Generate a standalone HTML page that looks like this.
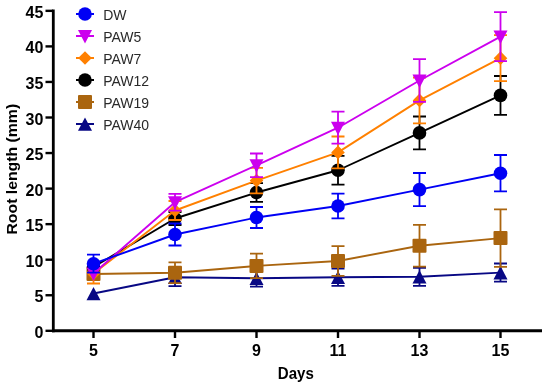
<!DOCTYPE html>
<html><head><meta charset="utf-8"><style>
html,body{margin:0;padding:0;background:#fff;width:550px;height:388px;overflow:hidden}
svg{display:block}
.tk{font-family:"Liberation Sans",sans-serif;font-weight:bold;font-size:16px;fill:#000}
.ax{font-family:"Liberation Sans",sans-serif;font-weight:bold;font-size:15.8px;fill:#000}
.ax2{font-family:"Liberation Sans",sans-serif;font-weight:bold;font-size:15.8px;fill:#000}
.lg{font-family:"Liberation Sans",sans-serif;font-size:14px;fill:#2a2a2a}
</style></head><body>
<svg style="will-change:transform" width="550" height="388" viewBox="0 0 550 388">
<path d="M53.3 9.4V332.3" stroke="#000" stroke-width="2.8"/>
<path d="M52 330.8H542" stroke="#000" stroke-width="3"/>
<path d="M45.5 330.80H53" stroke="#000" stroke-width="2.4"/>
<text x="43.3" y="337.80" class="tk" text-anchor="end">0</text>
<path d="M45.5 295.25H53" stroke="#000" stroke-width="2.4"/>
<text x="43.3" y="302.25" class="tk" text-anchor="end">5</text>
<path d="M45.5 259.70H53" stroke="#000" stroke-width="2.4"/>
<text x="43.3" y="266.70" class="tk" text-anchor="end">10</text>
<path d="M45.5 224.15H53" stroke="#000" stroke-width="2.4"/>
<text x="43.3" y="231.15" class="tk" text-anchor="end">15</text>
<path d="M45.5 188.60H53" stroke="#000" stroke-width="2.4"/>
<text x="43.3" y="195.60" class="tk" text-anchor="end">20</text>
<path d="M45.5 153.05H53" stroke="#000" stroke-width="2.4"/>
<text x="43.3" y="160.05" class="tk" text-anchor="end">25</text>
<path d="M45.5 117.50H53" stroke="#000" stroke-width="2.4"/>
<text x="43.3" y="124.50" class="tk" text-anchor="end">30</text>
<path d="M45.5 81.95H53" stroke="#000" stroke-width="2.4"/>
<text x="43.3" y="88.95" class="tk" text-anchor="end">35</text>
<path d="M45.5 46.40H53" stroke="#000" stroke-width="2.4"/>
<text x="43.3" y="53.40" class="tk" text-anchor="end">40</text>
<path d="M45.5 10.85H53" stroke="#000" stroke-width="2.4"/>
<text x="43.3" y="17.85" class="tk" text-anchor="end">45</text>
<path d="M93.5 331V338" stroke="#000" stroke-width="2.4"/>
<text x="93.5" y="356" class="tk" text-anchor="middle">5</text>
<path d="M175 331V338" stroke="#000" stroke-width="2.4"/>
<text x="175" y="356" class="tk" text-anchor="middle">7</text>
<path d="M256.5 331V338" stroke="#000" stroke-width="2.4"/>
<text x="256.5" y="356" class="tk" text-anchor="middle">9</text>
<path d="M338 331V338" stroke="#000" stroke-width="2.4"/>
<text x="338" y="356" class="tk" text-anchor="middle">11</text>
<path d="M419.5 331V338" stroke="#000" stroke-width="2.4"/>
<text x="419.5" y="356" class="tk" text-anchor="middle">13</text>
<path d="M500.5 331V338" stroke="#000" stroke-width="2.4"/>
<text x="500.5" y="356" class="tk" text-anchor="middle">15</text>
<text transform="translate(295.8 378.6) scale(0.955 1)" class="ax" text-anchor="middle">Days</text>
<text transform="translate(16.6 169.2) rotate(-90) scale(1 0.92)" class="ax2" text-anchor="middle">Root length (mm)</text>
<path d="M93.5 293.5 L175 277.2 L256.5 278.2 L338 277.3 L419.5 276.8 L500.5 272.6" fill="none" stroke="#080884" stroke-width="1.9" stroke-linejoin="round"/>
<path d="M175 268.2V286.2M168.5 268.2H181.5M168.5 286.2H181.5" fill="none" stroke="#080884" stroke-width="1.8"/>
<path d="M256.5 269.7V286.7M250.0 269.7H263.0M250.0 286.7H263.0" fill="none" stroke="#080884" stroke-width="1.8"/>
<path d="M338 268.7V285.90000000000003M331.5 268.7H344.5M331.5 285.90000000000003H344.5" fill="none" stroke="#080884" stroke-width="1.8"/>
<path d="M419.5 267.8V285.8M413.0 267.8H426.0M413.0 285.8H426.0" fill="none" stroke="#080884" stroke-width="1.8"/>
<path d="M500.5 263.5V281.70000000000005M494.0 263.5H507.0M494.0 281.70000000000005H507.0" fill="none" stroke="#080884" stroke-width="1.8"/>
<path d="M86.5 300.3L100.5 300.3L93.5 287.0Z" fill="#080884"/>
<path d="M168 284.0L182 284.0L175 270.7Z" fill="#080884"/>
<path d="M249.5 285.0L263.5 285.0L256.5 271.7Z" fill="#080884"/>
<path d="M331 284.1L345 284.1L338 270.8Z" fill="#080884"/>
<path d="M412.5 283.6L426.5 283.6L419.5 270.3Z" fill="#080884"/>
<path d="M493.5 279.40000000000003L507.5 279.40000000000003L500.5 266.1Z" fill="#080884"/>
<path d="M93.5 274 L175 272.8 L256.5 265.9 L338 261 L419.5 245.75 L500.5 238.1" fill="none" stroke="#AA650F" stroke-width="1.9" stroke-linejoin="round"/>
<path d="M175 262.40000000000003V283.2M168.5 262.40000000000003H181.5M168.5 283.2H181.5" fill="none" stroke="#AA650F" stroke-width="1.8"/>
<path d="M256.5 253.59999999999997V278.2M250.0 253.59999999999997H263.0M250.0 278.2H263.0" fill="none" stroke="#AA650F" stroke-width="1.8"/>
<path d="M338 246.2V275.8M331.5 246.2H344.5M331.5 275.8H344.5" fill="none" stroke="#AA650F" stroke-width="1.8"/>
<path d="M419.5 224.95V266.55M413.0 224.95H426.0M413.0 266.55H426.0" fill="none" stroke="#AA650F" stroke-width="1.8"/>
<path d="M500.5 209.4V266.8M494.0 209.4H507.0M494.0 266.8H507.0" fill="none" stroke="#AA650F" stroke-width="1.8"/>
<rect x="86.5" y="267" width="14" height="14" rx="1" fill="#AA650F"/>
<rect x="168" y="265.8" width="14" height="14" rx="1" fill="#AA650F"/>
<rect x="249.5" y="258.9" width="14" height="14" rx="1" fill="#AA650F"/>
<rect x="331" y="254" width="14" height="14" rx="1" fill="#AA650F"/>
<rect x="412.5" y="238.75" width="14" height="14" rx="1" fill="#AA650F"/>
<rect x="493.5" y="231.1" width="14" height="14" rx="1" fill="#AA650F"/>
<path d="M93.5 267 L175 218.5 L256.5 192.5 L338 170.25 L419.5 132.9 L500.5 95.4" fill="none" stroke="#000000" stroke-width="1.9" stroke-linejoin="round"/>
<path d="M175 212.0V225.0M168.5 212.0H181.5M168.5 225.0H181.5" fill="none" stroke="#000000" stroke-width="1.8"/>
<path d="M256.5 183.2V201.8M250.0 183.2H263.0M250.0 201.8H263.0" fill="none" stroke="#000000" stroke-width="1.8"/>
<path d="M338 155.95V184.55M331.5 155.95H344.5M331.5 184.55H344.5" fill="none" stroke="#000000" stroke-width="1.8"/>
<path d="M419.5 116.5V149.3M413.0 116.5H426.0M413.0 149.3H426.0" fill="none" stroke="#000000" stroke-width="1.8"/>
<path d="M500.5 76.0V114.80000000000001M494.0 76.0H507.0M494.0 114.80000000000001H507.0" fill="none" stroke="#000000" stroke-width="1.8"/>
<circle cx="93.5" cy="267" r="6.8" fill="#000000"/>
<circle cx="175" cy="218.5" r="6.8" fill="#000000"/>
<circle cx="256.5" cy="192.5" r="6.8" fill="#000000"/>
<circle cx="338" cy="170.25" r="6.8" fill="#000000"/>
<circle cx="419.5" cy="132.9" r="6.8" fill="#000000"/>
<circle cx="500.5" cy="95.4" r="6.8" fill="#000000"/>
<path d="M93.5 273.5 L175 210.5 L256.5 180.6 L338 152.4 L419.5 100.4 L500.5 58.15" fill="none" stroke="#FF8000" stroke-width="1.9" stroke-linejoin="round"/>
<path d="M93.5 263.5V283.5M87.0 263.5H100.0M87.0 283.5H100.0" fill="none" stroke="#FF8000" stroke-width="1.8"/>
<path d="M175 201.0V220.0M168.5 201.0H181.5M168.5 220.0H181.5" fill="none" stroke="#FF8000" stroke-width="1.8"/>
<path d="M256.5 167.9V193.29999999999998M250.0 167.9H263.0M250.0 193.29999999999998H263.0" fill="none" stroke="#FF8000" stroke-width="1.8"/>
<path d="M338 136.5V168.3M331.5 136.5H344.5M331.5 168.3H344.5" fill="none" stroke="#FF8000" stroke-width="1.8"/>
<path d="M419.5 77.5V123.30000000000001M413.0 77.5H426.0M413.0 123.30000000000001H426.0" fill="none" stroke="#FF8000" stroke-width="1.8"/>
<path d="M500.5 35.15V81.15M494.0 35.15H507.0M494.0 81.15H507.0" fill="none" stroke="#FF8000" stroke-width="1.8"/>
<path d="M93.5 266.7L100.3 273.5L93.5 280.3L86.7 273.5Z" fill="#FF8000"/>
<path d="M175 203.7L181.8 210.5L175 217.3L168.2 210.5Z" fill="#FF8000"/>
<path d="M256.5 173.79999999999998L263.3 180.6L256.5 187.4L249.7 180.6Z" fill="#FF8000"/>
<path d="M338 145.6L344.8 152.4L338 159.20000000000002L331.2 152.4Z" fill="#FF8000"/>
<path d="M419.5 93.60000000000001L426.3 100.4L419.5 107.2L412.7 100.4Z" fill="#FF8000"/>
<path d="M500.5 51.35L507.3 58.15L500.5 64.95L493.7 58.15Z" fill="#FF8000"/>
<path d="M93.5 273.5 L175 202.2 L256.5 165.3 L338 127.7 L419.5 80.5 L500.5 36.6" fill="none" stroke="#CC00EE" stroke-width="1.9" stroke-linejoin="round"/>
<path d="M175 193.79999999999998V210.6M168.5 193.79999999999998H181.5M168.5 210.6H181.5" fill="none" stroke="#CC00EE" stroke-width="1.8"/>
<path d="M256.5 153.5V177.10000000000002M250.0 153.5H263.0M250.0 177.10000000000002H263.0" fill="none" stroke="#CC00EE" stroke-width="1.8"/>
<path d="M338 111.7V143.7M331.5 111.7H344.5M331.5 143.7H344.5" fill="none" stroke="#CC00EE" stroke-width="1.8"/>
<path d="M419.5 59.2V101.8M413.0 59.2H426.0M413.0 101.8H426.0" fill="none" stroke="#CC00EE" stroke-width="1.8"/>
<path d="M500.5 12.100000000000001V61.1M494.0 12.100000000000001H507.0M494.0 61.1H507.0" fill="none" stroke="#CC00EE" stroke-width="1.8"/>
<path d="M86.5 267.5L100.5 267.5L93.5 281.0Z" fill="#CC00EE"/>
<path d="M168 196.2L182 196.2L175 209.7Z" fill="#CC00EE"/>
<path d="M249.5 159.3L263.5 159.3L256.5 172.8Z" fill="#CC00EE"/>
<path d="M331 121.7L345 121.7L338 135.2Z" fill="#CC00EE"/>
<path d="M412.5 74.5L426.5 74.5L419.5 88.0Z" fill="#CC00EE"/>
<path d="M493.5 30.6L507.5 30.6L500.5 44.1Z" fill="#CC00EE"/>
<path d="M93.5 263.7 L175 234.5 L256.5 217.5 L338 206 L419.5 189.6 L500.5 173.2" fill="none" stroke="#0000F5" stroke-width="1.9" stroke-linejoin="round"/>
<path d="M93.5 254.7V272.7M87.0 254.7H100.0M87.0 272.7H100.0" fill="none" stroke="#0000F5" stroke-width="1.8"/>
<path d="M175 223.5V245.5M168.5 223.5H181.5M168.5 245.5H181.5" fill="none" stroke="#0000F5" stroke-width="1.8"/>
<path d="M256.5 207.0V228.0M250.0 207.0H263.0M250.0 228.0H263.0" fill="none" stroke="#0000F5" stroke-width="1.8"/>
<path d="M338 193.7V218.3M331.5 193.7H344.5M331.5 218.3H344.5" fill="none" stroke="#0000F5" stroke-width="1.8"/>
<path d="M419.5 173.0V206.2M413.0 173.0H426.0M413.0 206.2H426.0" fill="none" stroke="#0000F5" stroke-width="1.8"/>
<path d="M500.5 155.0V191.39999999999998M494.0 155.0H507.0M494.0 191.39999999999998H507.0" fill="none" stroke="#0000F5" stroke-width="1.8"/>
<circle cx="93.5" cy="263.7" r="6.8" fill="#0000F5"/>
<circle cx="175" cy="234.5" r="6.8" fill="#0000F5"/>
<circle cx="256.5" cy="217.5" r="6.8" fill="#0000F5"/>
<circle cx="338" cy="206" r="6.8" fill="#0000F5"/>
<circle cx="419.5" cy="189.6" r="6.8" fill="#0000F5"/>
<circle cx="500.5" cy="173.2" r="6.8" fill="#0000F5"/>
<path d="M76 14H94" stroke="#0000F5" stroke-width="2"/>
<circle cx="85" cy="14" r="6.8" fill="#0000F5"/>
<text x="103.2" y="19.8" class="lg">DW</text>
<path d="M76 36H94" stroke="#CC00EE" stroke-width="2"/>
<path d="M78 30L92 30L85 43.5Z" fill="#CC00EE"/>
<text x="103.2" y="41.8" class="lg">PAW5</text>
<path d="M76 58H94" stroke="#FF8000" stroke-width="2"/>
<path d="M85 51.2L91.8 58L85 64.8L78.2 58Z" fill="#FF8000"/>
<text x="103.2" y="63.8" class="lg">PAW7</text>
<path d="M76 80H94" stroke="#000000" stroke-width="2"/>
<circle cx="85" cy="80" r="6.8" fill="#000000"/>
<text x="103.2" y="85.8" class="lg">PAW12</text>
<path d="M76 102H94" stroke="#AA650F" stroke-width="2"/>
<rect x="78" y="95" width="14" height="14" rx="1" fill="#AA650F"/>
<text x="103.2" y="107.8" class="lg">PAW19</text>
<path d="M76 124H94" stroke="#080884" stroke-width="2"/>
<path d="M78 130.8L92 130.8L85 117.5Z" fill="#080884"/>
<text x="103.2" y="129.8" class="lg">PAW40</text>
</svg>
</body></html>
